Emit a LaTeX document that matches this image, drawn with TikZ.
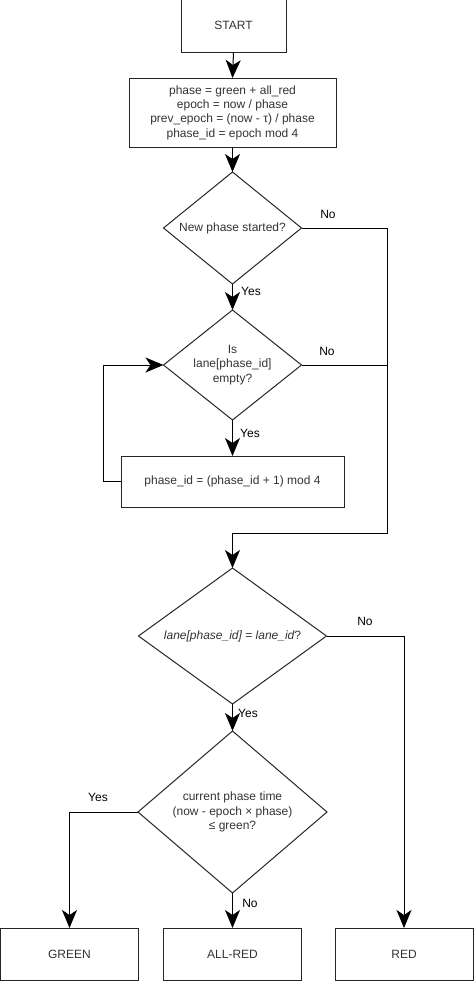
\documentclass[tikz,border=0pt]{standalone}
\usepackage{fontspec}
\setmainfont{Liberation Sans}
\usetikzlibrary{shapes.geometric,arrows.meta}
\definecolor{txt}{HTML}{333333}
\tikzset{
  box/.style={draw=black!85, line width=1pt, rectangle, inner sep=0pt, outer sep=0pt,
    align=center, text=txt, font=\fontsize{12}{14.3}\selectfont},
  dia/.style={draw=black!85, line width=1pt, diamond, inner sep=0pt, outer sep=0pt,
    align=center, text=txt, font=\fontsize{12}{14.3}\selectfont},
  conn/.style={draw=black, line width=1pt},
  arr/.style={conn, -{Stealth[length=18pt,width=15pt,inset=5pt]}},
  lbl/.style={text=black, font=\fontsize{12}{14}\selectfont, inner sep=0pt}
}
\begin{document}
\begin{tikzpicture}[x=1pt,y=-1pt]
\useasboundingbox (0,0) rectangle (474,983);
\node[box, minimum width=105, minimum height=54] (start) at (233.5,25) {START};
\node[box, minimum width=207, minimum height=69] (init) at (232.5,112.5)
  {phase = green + all\_red\\epoch = now / phase\\prev\_epoch = (now - τ) / phase\\phase\_id = epoch mod 4};
\node[dia, aspect=1.23, minimum width=138, minimum height=112] (d1) at (232.5,228) {New phase started?};
\node[dia, aspect=1.25, minimum width=138, minimum height=110] (d2) at (232.5,365) {Is\\lane[phase\_id]\\empty?};
\node[box, minimum width=223, minimum height=51] (inc) at (232.5,481.5) {phase\_id = (phase\_id + 1) mod 4};
\node[dia, aspect=1.38, minimum width=188, minimum height=136] (d3) at (232.5,636)
  {\itshape lane[phase\_id]\upshape{} = \itshape lane\_id\upshape ?};
\node[dia, aspect=1.17, minimum width=189, minimum height=162] (d4) at (232.5,812)
  {current phase time\\(now - epoch × phase)\\≤ green?};
\node[box, minimum width=138, minimum height=52] (green) at (69.5,954) {GREEN};
\node[box, minimum width=138, minimum height=52] (allred) at (232.5,954) {ALL-RED};
\node[box, minimum width=138, minimum height=52] (red) at (404,954) {RED};
\coordinate (merge) at (387,533);
\coordinate (loopx) at (103,481.5);
% connectors
\draw[arr] (start.south) -- (init.north);
\draw[arr] (init.south) -- (d1.north);
\draw[arr] (d1.south) -- (d2.north);
\draw[arr] (d2.south) -- (inc.north);
\draw[arr] (inc.west) -- (loopx) |- (d2.west);
\draw[arr] (d1.east) -| (merge) -| (d3.north);
\draw[conn] (d2.east) -- (d2.east -| merge);
\draw[arr] (d3.east) -| (red.north);
\draw[arr] (d3.south) -- (d4.north);
\draw[arr] (d4.west) -| (green.north);
\draw[arr] (d4.south) -- (allred.north);
% labels
\node[lbl] (l1) at (328,214) {No};
\node[lbl] (l2) at (251,291) {Yes};
\node[lbl] (l3) at (327,351) {No};
\node[lbl] (l4) at (250,433) {Yes};
\node[lbl] (l5) at (365,621) {No};
\node[lbl] (l6) at (248,713) {Yes};
\node[lbl] (l7) at (98,797) {Yes};
\node[lbl] (l8) at (250,903) {No};
\end{tikzpicture}
\end{document}
